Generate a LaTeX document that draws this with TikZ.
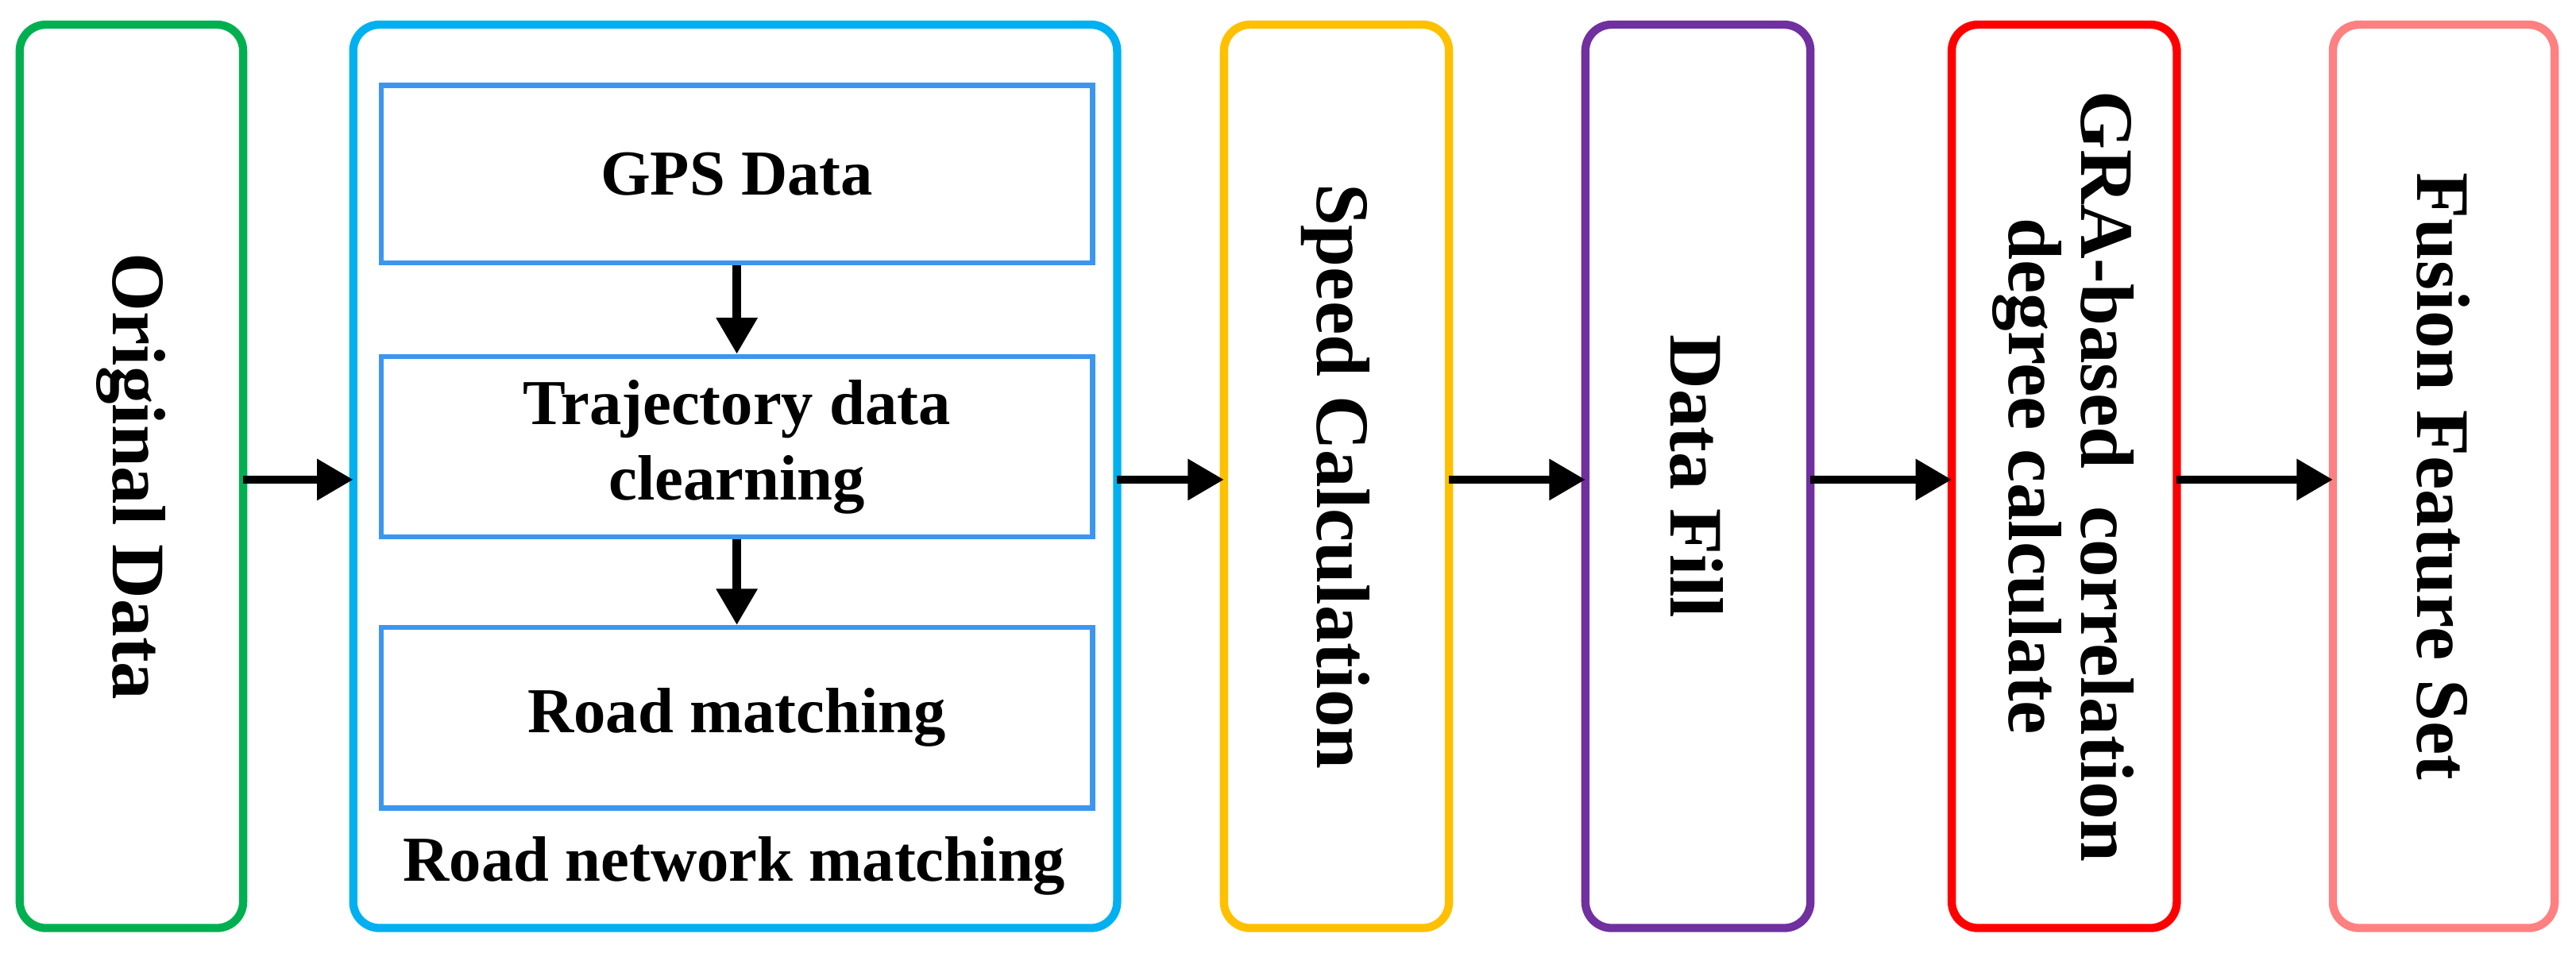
\documentclass[tikz,border=0pt]{standalone}
\usepackage{fontspec}
\setmainfont{Liberation Serif}
\usetikzlibrary{arrows.meta}
\definecolor{cg}{RGB}{0,176,80}
\definecolor{cb}{RGB}{0,176,240}
\definecolor{ci}{RGB}{60,150,240}
\definecolor{cy}{RGB}{255,192,0}
\definecolor{cp}{RGB}{112,48,160}
\definecolor{cr}{RGB}{255,0,0}
\definecolor{ck}{RGB}{255,128,128}
\begin{document}
\begin{tikzpicture}[x=1pt,y=-1pt,
 outer/.style={draw,line width=5pt,rounded corners=16pt},
 inner/.style={draw=ci,line width=3pt},
 txt/.style={font=\fontsize{39}{46}\selectfont\bfseries,align=center},
 vtxt/.style={font=\fontsize{46}{44}\selectfont\bfseries,align=center,rotate=-90},
 arr/.style={line width=5pt,-{Triangle[length=22pt,width=24pt]}}]
\useasboundingbox (0,0) rectangle (1568,580);
\draw[outer,cg] (12,15) rectangle (148,565);
\draw[outer,cb] (215,15) rectangle (680,565);
\draw[outer,cy] (745,15) rectangle (882,565);
\draw[outer,cp] (965,15) rectangle (1102,565);
\draw[outer,cr] (1188,15) rectangle (1325,565);
\draw[outer,ck] (1420,15) rectangle (1555,565);
\coordinate (o1) at (148,292); \coordinate (r0) at (215,292);
\coordinate (r1) at (680,292); \coordinate (s0) at (745,292);
\coordinate (s1) at (882,292); \coordinate (d0) at (965,292);
\coordinate (d1) at (1102,292); \coordinate (g0) at (1188,292);
\coordinate (g1) at (1325,292); \coordinate (f0) at (1420,292);
\node[inner,minimum width=433pt,minimum height=108pt,txt] (gps) at (448.5,106) {GPS Data};
\node[inner,minimum width=433pt,minimum height=110pt,txt] (traj) at (448.5,272) {Trajectory data\\clearning};
\node[inner,minimum width=433pt,minimum height=110pt,txt] (road) at (448.5,437) {Road matching};
\node[txt] (rnm) at (447,527) {Road network matching};
\node[vtxt] (od) at (80,290) {Original Data};
\node[vtxt] (sc) at (813,290) {Speed Calculation};
\node[vtxt] (df) at (1033,290) {Data Fill};
\node[vtxt] (gra) at (1256,290) {GRA-based\ \ correlation\\degree calculate};
\node[vtxt] (ffs) at (1487,290) {Fusion Feature Set};
\draw[arr] (o1) -- (r0);
\draw[arr] (r1) -- (s0);
\draw[arr] (s1) -- (d0);
\draw[arr] (d1) -- (g0);
\draw[arr] (g1) -- (f0);
\draw[arr] (gps) -- (traj);
\draw[arr] (traj) -- (road);
\end{tikzpicture}
\end{document}
